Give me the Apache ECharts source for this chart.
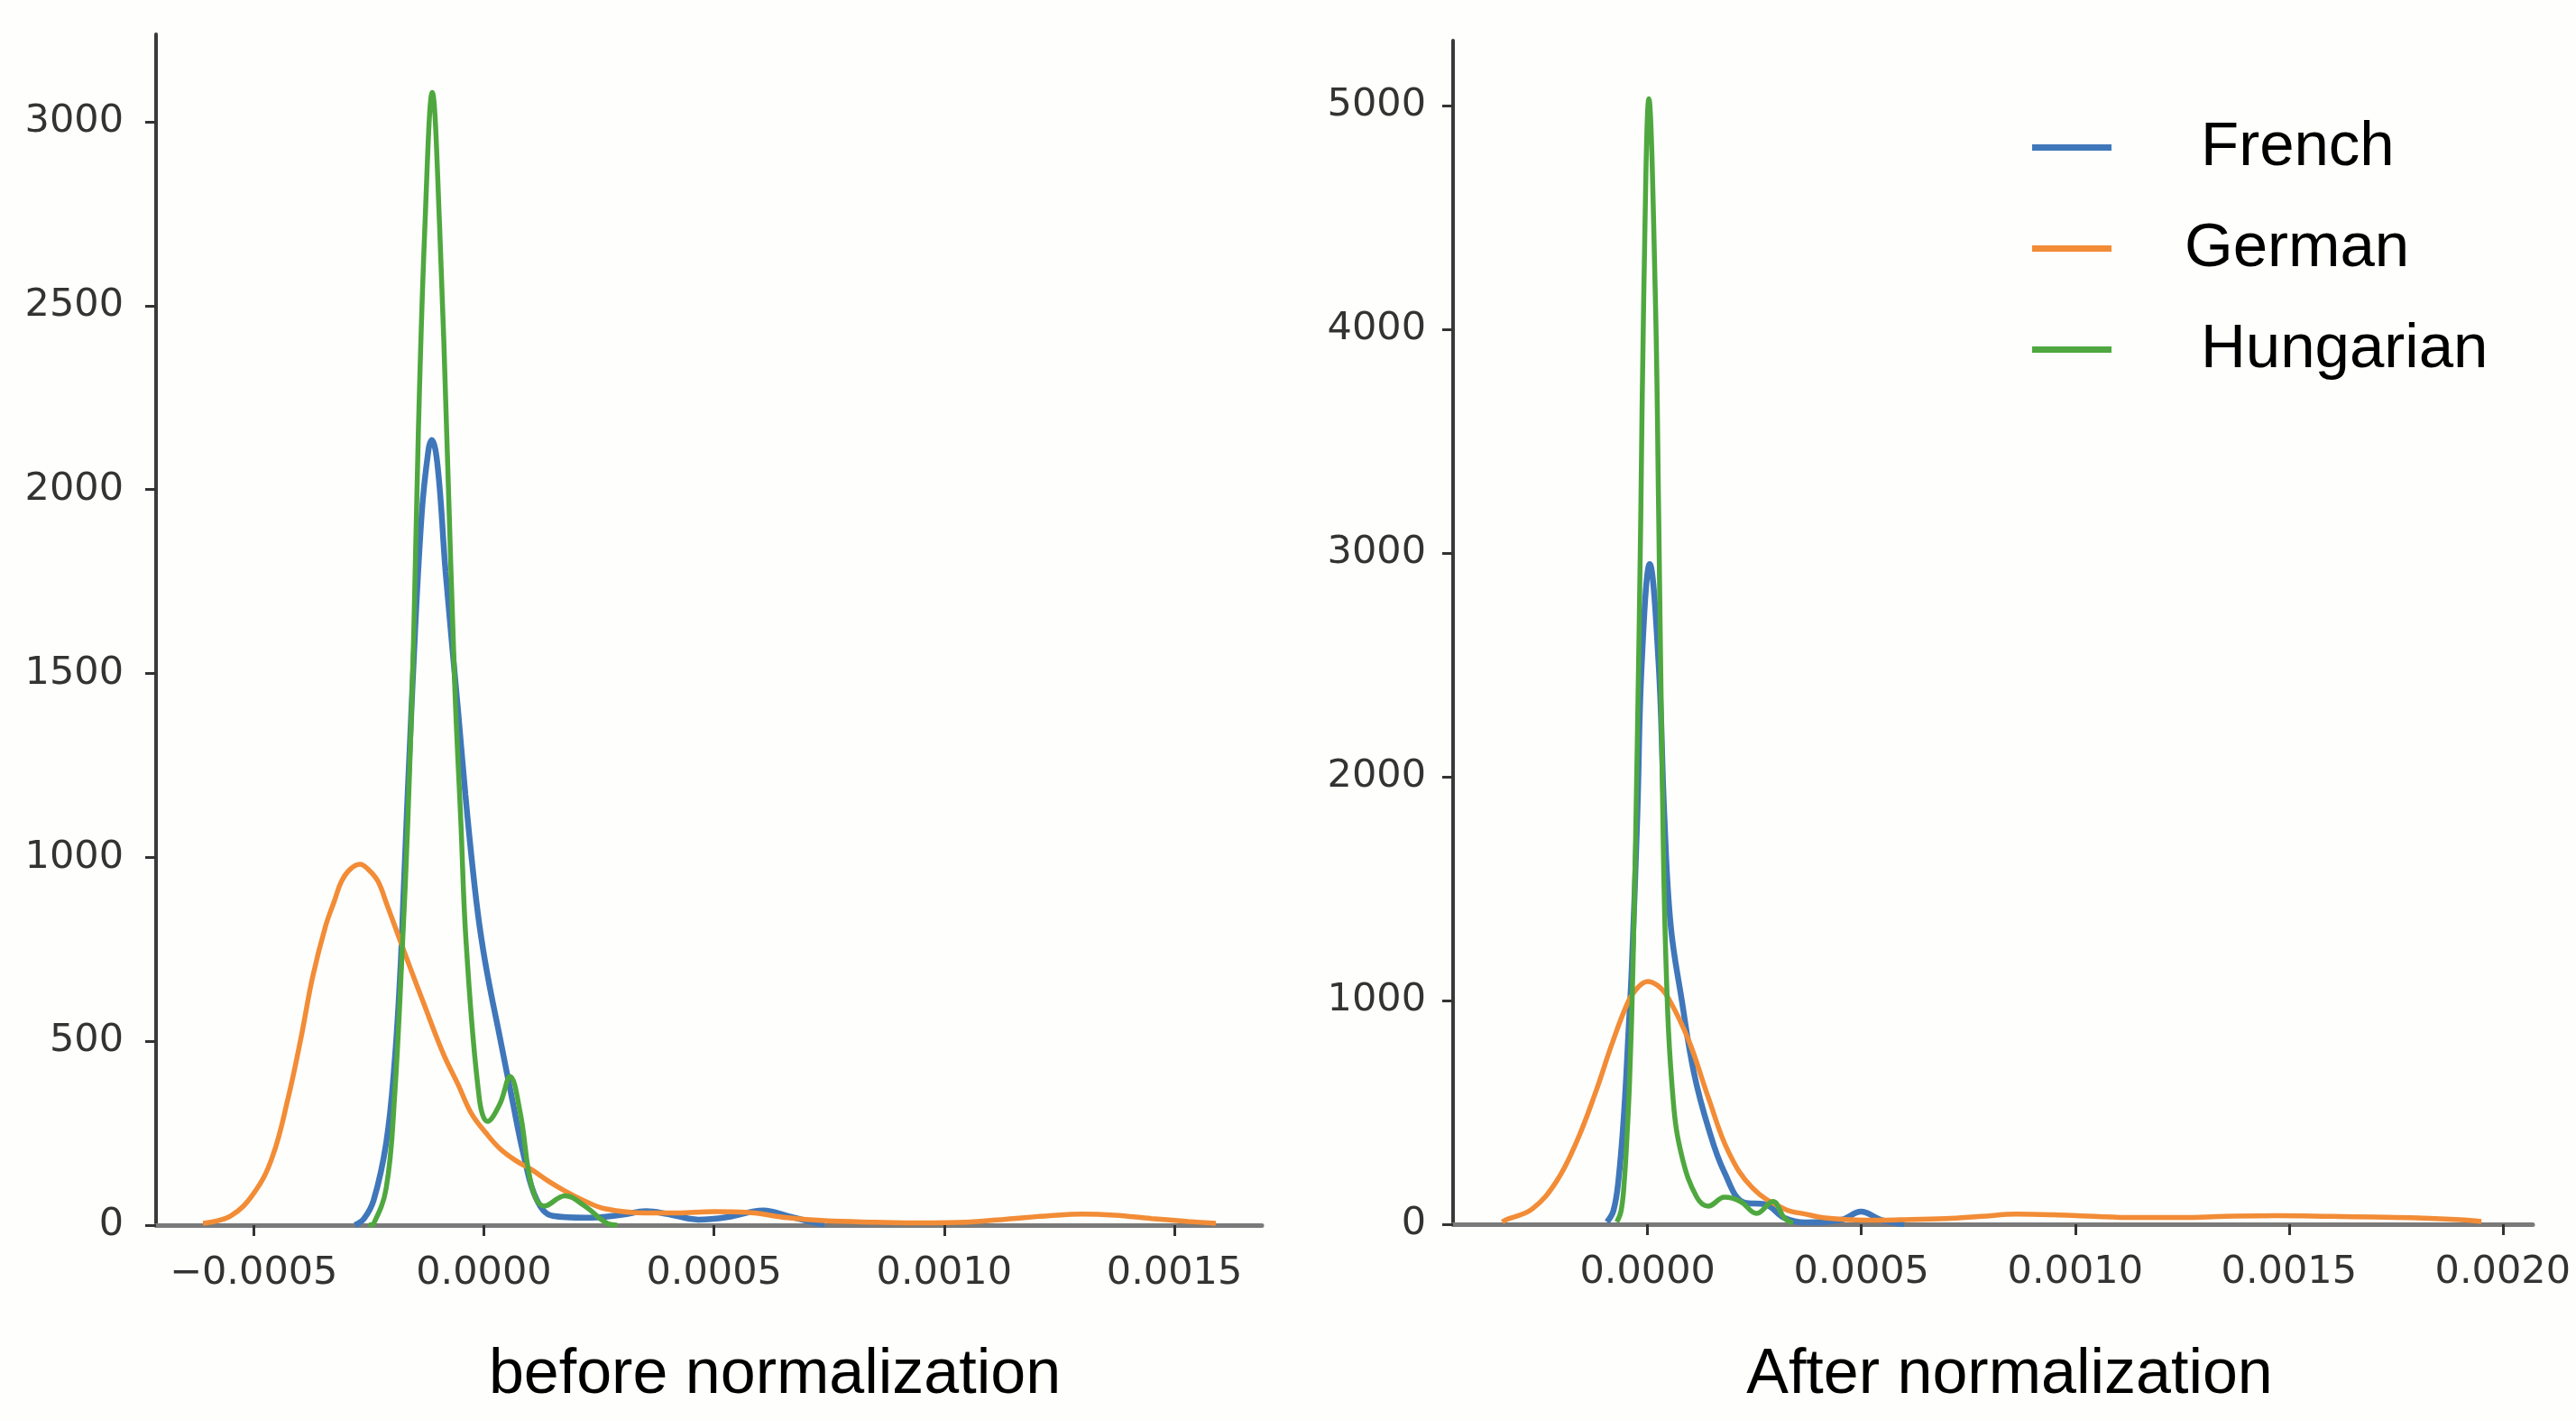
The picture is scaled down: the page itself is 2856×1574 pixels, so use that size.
<!DOCTYPE html>
<html>
<head>
<meta charset="utf-8">
<script src="https://cdn.jsdelivr.net/npm/echarts@6/dist/echarts.min.js"></script>
<style>
  html, body { margin: 0; padding: 0; background: #fefefc; }
  #chart { width: 2856px; height: 1574px; }
</style>
</head>
<body>
<div id="chart"></div>
<script>
// ---------- data (x values in raw units, y = density) ----------
const seriesNames = ['French', 'German', 'Hungarian'];

// before normalization
const beforeFrenchX = [-2.8e-4,-2.6e-4,-2.39e-4,-2.12e-4,-1.94e-4,-1.81e-4,-1.74e-4,-1.55e-4,-1.35e-4,-1.2e-4,-1.13e-4,-1.0e-4,-0.83e-4,-0.56e-4,-0.40e-4,-0.25e-4,-0.10e-4,0.08e-4,0.35e-4,0.61e-4,0.88e-4,1.15e-4,1.5e-4,2.19e-4,3.0e-4,3.52e-4,4.0e-4,4.66e-4,5.3e-4,6.07e-4,6.6e-4,7.06e-4,7.4e-4];
const beforeFrenchY = [0,18,69,224,440,700,914,1464,1933,2110,2135,2060,1776,1400,1170,980,820,680,510,346,183,69,25,20,28,38,30,15,22,40,25,10,2];

const beforeGermanX = [-6.1e-4,-5.5e-4,-5.0e-4,-4.6e-4,-4.25e-4,-3.97e-4,-3.72e-4,-3.44e-4,-3.25e-4,-3.09e-4,-2.9e-4,-2.69e-4,-2.5e-4,-2.30e-4,-2.1e-4,-1.86e-4,-1.6e-4,-1.32e-4,-0.89e-4,-0.55e-4,-0.28e-4,0.05e-4,0.35e-4,0.7e-4,1.05e-4,1.4e-4,1.76e-4,2.2e-4,2.65e-4,3.5e-4,4.2e-4,5.0e-4,5.7e-4,6.6e-4,7.4e-4,8.5e-4,9.5e-4,10.5e-4,11.5e-4,12.3e-4,13.0e-4,13.7e-4,14.5e-4,15.3e-4,15.9e-4];
const beforeGermanY = [5,25,86,183,346,510,674,812,880,935,968,981,966,935,870,788,700,608,469,380,306,250,208,175,150,120,93,65,44,33,33,37,35,20,12,8,6,8,18,26,30,27,18,10,5];

const beforeHungarianX = [-2.5e-4,-2.39e-4,-2.12e-4,-1.94e-4,-1.77e-4,-1.65e-4,-1.52e-4,-1.42e-4,-1.28e-4,-1.12e-4,-0.96e-4,-0.79e-4,-0.63e-4,-0.50e-4,-0.38e-4,-0.10e-4,0.08e-4,0.35e-4,0.57e-4,0.79e-4,1.05e-4,1.32e-4,1.76e-4,2.19e-4,2.68e-4,2.9e-4];
const beforeHungarianY = [0,5,101,346,755,1100,1619,2167,2715,3080,2715,2090,1463,1100,760,346,282,330,404,306,101,52,80,52,5,0];

// after normalization
const afterFrenchX = [-0.95e-4,-0.80e-4,-0.68e-4,-0.55e-4,-0.45e-4,-0.37e-4,-0.24e-4,-0.14e-4,0.05e-4,0.26e-4,0.39e-4,0.54e-4,0.80e-4,1.08e-4,1.42e-4,1.80e-4,2.27e-4,2.74e-4,3.2e-4,3.69e-4,4.53e-4,4.99e-4,5.45e-4,5.83e-4,6.0e-4];
const afterFrenchY = [10,60,200,500,850,1150,1830,2496,2950,2496,1830,1335,1000,680,431,230,96,89,28,8,20,56,20,5,0];

const afterGermanX = [-3.4e-4,-3.31e-4,-2.70e-4,-2.14e-4,-1.67e-4,-1.21e-4,-0.83e-4,-0.45e-4,-0.22e-4,0.0,0.25e-4,0.49e-4,0.96e-4,1.42e-4,1.89e-4,2.45e-4,3.20e-4,3.7e-4,4.15e-4,5.07e-4,5.9e-4,6.97e-4,7.8e-4,8.63e-4,9.5e-4,10.3e-4,11.4e-4,12.5e-4,13.5e-4,14.7e-4,16.0e-4,17.0e-4,18.0e-4,19.0e-4,19.5e-4];
const afterGermanY = [10,20,68,189,364,593,808,996,1060,1085,1065,1009,822,566,324,163,68,45,28,18,20,25,35,45,42,36,30,30,35,38,35,32,28,20,12];

const afterHungarianX = [-0.72e-4,-0.62e-4,-0.55e-4,-0.48e-4,-0.42e-4,-0.34e-4,-0.24e-4,-0.16e-4,-0.09e-4,0.03e-4,0.18e-4,0.26e-4,0.33e-4,0.43e-4,0.6e-4,0.81e-4,1.15e-4,1.42e-4,1.80e-4,2.17e-4,2.55e-4,2.93e-4,3.2e-4,3.4e-4];
const afterHungarianY = [10,60,180,400,650,1169,2165,3159,4153,5030,4153,3159,2165,1169,550,297,121,81,121,102,48,102,28,5];

// tick labels
const beforeXTicks = [-0.0005, 0, 0.0005, 0.001, 0.0015];
const beforeYTicks = [0, 500, 1000, 1500, 2000, 2500, 3000];
const afterXTicks = [0, 0.0005, 0.001, 0.0015, 0.002];
const afterYTicks = [0, 1000, 2000, 3000, 4000, 5000];

const panelTitles = ['before normalization', 'After normalization'];

// ---------- styling ----------
const colors = { French: '#3f77ba', German: '#f28c36', Hungarian: '#4fa83f' };
const widths = { French: 6.5, German: 5.5, Hungarian: 5.5 };

function zip(xs, ys) { return xs.map((x, i) => [x, ys[i]]); }
function fmtX(v) {
  const s = Math.abs(v).toFixed(4);
  return (v < -1e-12 ? '\u2212' : '') + s;
}
function fmtY(v) { return String(Math.round(v)); }

const tickFont = { fontFamily: 'DejaVu Sans', fontSize: 43, color: '#333333' };

function xAxis(gridIndex, min, max, ticks) {
  return {
    type: 'value', gridIndex, min, max,
    axisLine: { show: true, onZero: false, lineStyle: { color: '#7a7a7a', width: 5 } },
    axisTick: { show: true, length: 12, customValues: ticks, lineStyle: { color: '#333', width: 3 } },
    axisLabel: Object.assign({ customValues: ticks, margin: 32, formatter: fmtX }, tickFont),
    splitLine: { show: false }
  };
}
function yAxis(gridIndex, min, max, ticks, margin) {
  return {
    type: 'value', gridIndex, min, max,
    axisLine: { show: true, onZero: false, lineStyle: { color: '#3a3a3a', width: 4 } },
    axisTick: { show: true, length: 12, customValues: ticks, lineStyle: { color: '#333', width: 3 } },
    axisLabel: Object.assign({ customValues: ticks, margin: margin, formatter: fmtY }, tickFont),
    splitLine: { show: false }
  };
}

function lineSeries(name, idx, xs, ys) {
  return {
    name, type: 'line', xAxisIndex: idx, yAxisIndex: idx,
    data: zip(xs, ys), showSymbol: false, smooth: 0.4,
    lineStyle: { color: colors[name], width: widths[name] },
    itemStyle: { color: colors[name] },
    z: 3, animation: false
  };
}

const chart = echarts.init(document.getElementById('chart'));
chart.setOption({
  backgroundColor: '#fefefc',
  animation: false,
  grid: [
    { left: 173, right: 1457, top: 38, bottom: 216 },
    { left: 1611, right: 48, top: 45, bottom: 217 }
  ],
  xAxis: [
    xAxis(0, -0.000712, 0.00169, beforeXTicks),
    xAxis(1, -0.000455, 0.00207, afterXTicks)
  ],
  yAxis: [
    yAxis(0, 0, 3238, beforeYTicks, 36),
    yAxis(1, 0, 5290, afterYTicks, 30)
  ],
  legend: {
    orient: 'vertical', left: 2248, top: 124,
    itemWidth: 88, itemHeight: 7, itemGap: 43,
    icon: 'rect',
    textStyle: { fontFamily: 'Liberation Sans', fontSize: 69, color: '#000', padding: [0, 0, 0, 94] },
    data: [
      { name: 'French' },
      { name: 'German', textStyle: { padding: [0, 0, 0, 76] } },
      { name: 'Hungarian' }
    ]
  },
  graphic: [
    { type: 'text', x: 859, y: 1525, style: { text: panelTitles[0], fontFamily: 'Liberation Sans', fontSize: 70, fill: '#000', textAlign: 'center', textVerticalAlign: 'middle' } },
    { type: 'text', x: 2228, y: 1525, style: { text: panelTitles[1], fontFamily: 'Liberation Sans', fontSize: 70, fill: '#000', textAlign: 'center', textVerticalAlign: 'middle' } }
  ],
  series: [
    lineSeries('French', 0, beforeFrenchX, beforeFrenchY),
    lineSeries('German', 0, beforeGermanX, beforeGermanY),
    lineSeries('Hungarian', 0, beforeHungarianX, beforeHungarianY),
    lineSeries('French', 1, afterFrenchX, afterFrenchY),
    lineSeries('German', 1, afterGermanX, afterGermanY),
    lineSeries('Hungarian', 1, afterHungarianX, afterHungarianY)
  ]
});
</script>
</body>
</html>
